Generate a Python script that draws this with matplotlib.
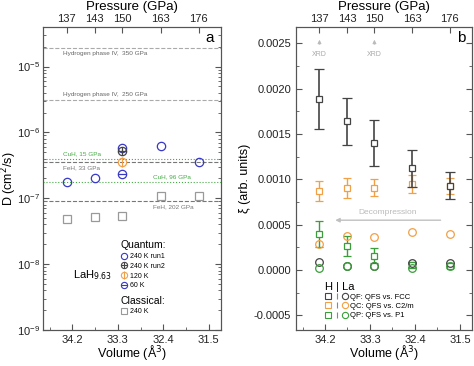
"""LaH9.63 diffusion coefficients (a) and quantum fluctuation measures (b)."""

import numpy as np
import matplotlib
matplotlib.use("Agg")
import matplotlib.pyplot as plt
from matplotlib.lines import Line2D
from matplotlib.legend_handler import HandlerTuple
from matplotlib.ticker import MultipleLocator, LogLocator, NullFormatter, FormatStrFormatter

plt.rcParams["font.family"] = ["Liberation Sans", "DejaVu Sans"]
plt.rcParams["axes.edgecolor"] = "#555555"
plt.rcParams["xtick.color"] = "#555555"
plt.rcParams["ytick.color"] = "#555555"
plt.rcParams["xtick.labelcolor"] = "#222222"
plt.rcParams["ytick.labelcolor"] = "#222222"

# ---- data ----
volume = [34.31, 33.76, 33.21, 32.45, 31.70]
pressure_labels = ["137", "143", "150", "163", "176"]

# panel a: diffusion coefficient D (cm^2/s)
d_240k_run1 = [1.74e-7, 2.0e-7, 5.8e-7, 6.3e-7, 3.6e-7]
d_240k_run2_v, d_240k_run2 = [33.21], [5.3e-7]
d_120k_v, d_120k = [33.21], [3.6e-7]
d_60k_v, d_60k = [33.21], [2.3e-7]
d_classical = [4.8e-8, 5.2e-8, 5.4e-8, 1.1e-7, 1.08e-7]

ref_lines = [  # (value, label, colour, style, label position)
    (1.93e-5, "Hydrogen phase IV,  350 GPa", "#aaaaaa", "--", "left_below"),
    (3.1e-6, "Hydrogen phase IV,  250 GPa", "#aaaaaa", "--", "left_above"),
    (3.9e-7, "CuH, 15 GPa", "#44aa44", ":", "left_above"),
    (3.5e-7, "FeH, 33 GPa", "#777777", "--", "left_below"),
    (1.74e-7, "CuH, 96 GPa", "#44aa44", ":", "right_above"),
    (9.0e-8, "FeH, 202 GPa", "#777777", "--", "right_below"),
]

# panel b: xi (arb. units); H = squares, La = circles
qf_h = [0.00189, 0.00164, 0.00140, 0.00112, 0.00093]
qf_h_err = [0.00033, 0.00026, 0.00025, 0.00020, 0.00015]
qc_h = [0.00087, 0.00091, 0.00091, 0.00095, 0.00093]
qc_h_err = [0.00011, 0.00011, 0.00009, 0.00010, 0.00009]
qp_h = [0.00040, 0.00027, 0.00016, 0.00006, 0.00005]
qp_h_err = [0.00014, 0.00011, 0.00008, 0.00003, 0.00003]
qf_la = [0.00009, 0.00005, 0.00005, 0.00008, 0.00008]
qc_la = [0.00029, 0.00038, 0.00037, 0.00042, 0.00040]
qp_la = [0.00002, 0.00005, 0.00004, 0.00002, 0.00004]

BLUE = "#3838c8"
ORANGE = "#f2a046"
GREEN = "#3a9e3a"
DARK = "#444444"
GRAY = "#999999"

fig = plt.figure(figsize=(4.74, 3.66), dpi=100)
ax_a = fig.add_axes([0.0907, 0.0984, 0.3755, 0.828])
ax_b = fig.add_axes([0.6245, 0.0984, 0.371, 0.828])
xlim = (34.78, 31.26)


def style_axes(ax):
    ax.set_xlim(*xlim)
    ax.xaxis.set_major_locator(MultipleLocator(0.9))
    ax.xaxis.set_minor_locator(MultipleLocator(0.45))
    ax.tick_params(which="both", direction="in", right=True, labelsize=8)
    ax.tick_params(which="major", length=4)
    ax.tick_params(which="minor", length=2)
    ax.set_xlabel("Volume (Å$^3$)", fontsize=9, labelpad=-1)
    top = ax.twiny()
    top.set_xlim(*xlim)
    top.set_xticks(volume)
    top.set_xticklabels(pressure_labels)
    top.tick_params(direction="in", length=4, labelsize=8, pad=2)
    top.set_xlabel("Pressure (GPa)", fontsize=9.5, labelpad=3)
    return top


# ---- panel a ----
top_a = style_axes(ax_a)
ax_a.set_yscale("log")
ax_a.set_ylim(1e-9, 4e-5)
ax_a.yaxis.set_major_locator(LogLocator(base=10, numticks=10))
ax_a.yaxis.set_minor_locator(LogLocator(base=10, subs=np.arange(2, 10), numticks=10))
ax_a.yaxis.set_minor_formatter(NullFormatter())
ax_a.tick_params(axis="y", pad=2)
ax_a.set_ylabel("D (cm$^2$/s)", fontsize=9)
ax_a.yaxis.set_label_coords(-0.135, 0.5)

ytr = ax_a.get_yaxis_transform()
for val, lab, col, ls, pos in ref_lines:
    ax_a.axhline(val, color=col, ls=ls, lw=0.8)
    xpos = 0.11 if pos.startswith("left") else 0.62
    tcol = col if col != "#aaaaaa" else "#666666"
    if pos.endswith("above"):
        ax_a.text(xpos, val * 1.12, lab, transform=ytr, fontsize=4.6,
                  color=tcol, va="bottom")
    else:
        ax_a.text(xpos, val / 1.12, lab, transform=ytr, fontsize=4.6,
                  color=tcol, va="top")

ms = 6
ax_a.plot(volume, d_classical, "s", ms=5.5, mfc="none", mec=GRAY, mew=0.9, ls="none")
ax_a.plot(volume, d_240k_run1, "o", ms=ms, mfc="none", mec=BLUE, mew=0.9, ls="none")
ax_a.plot(d_240k_run2_v, d_240k_run2, "o", ms=ms, mfc="none", mec=DARK, mew=0.9, ls="none")
ax_a.plot(d_240k_run2_v, d_240k_run2, "+", ms=ms, mec=DARK, mew=0.9, ls="none")
ax_a.plot(d_120k_v, d_120k, "o", ms=ms, mfc="none", mec=ORANGE, mew=0.9, ls="none")
ax_a.plot(d_120k_v, d_120k, "|", ms=ms + 1, mec=ORANGE, mew=0.9, ls="none")
ax_a.plot(d_60k_v, d_60k, "o", ms=ms, mfc="none", mec=BLUE, mew=0.9, ls="none")
ax_a.plot(d_60k_v, d_60k, "_", ms=ms, mec=BLUE, mew=0.9, ls="none")

ax_a.text(0.96, 0.985, "a", transform=ax_a.transAxes, fontsize=11, ha="right", va="top")
ax_a.text(0.17, 0.18, "LaH$_{9.63}$", transform=ax_a.transAxes, fontsize=8, va="center")


def mk(marker, color, size=4.5):
    return Line2D([], [], marker=marker, ls="none", ms=size, mfc="none", mec=color, mew=0.8)


q_handles = [
    mk("o", BLUE),
    (mk("o", DARK), mk("+", DARK)),
    (mk("o", ORANGE), mk("|", ORANGE, 5.5)),
    (mk("o", BLUE), mk("_", BLUE)),
]
q_labels = ["240 K run1", "240 K run2", "120 K", "60 K"]
leg_q = ax_a.legend(q_handles, q_labels, title="Quantum:", loc="upper left",
                    bbox_to_anchor=(0.41, 0.31), frameon=False, fontsize=5,
                    title_fontsize=7.5, handlelength=1.0, handletextpad=0.4,
                    labelspacing=0.4, borderpad=0.1,
                    handler_map={tuple: HandlerTuple(ndivide=1)})
leg_q._legend_box.align = "left"
ax_a.add_artist(leg_q)
leg_c = ax_a.legend([mk("s", GRAY)], ["240 K"], title="Classical:", loc="upper left",
                    bbox_to_anchor=(0.41, 0.125), frameon=False, fontsize=5,
                    title_fontsize=7.5, handlelength=1.0, handletextpad=0.4,
                    labelspacing=0.3, borderpad=0.1)
leg_c._legend_box.align = "left"

# ---- panel b ----
top_b = style_axes(ax_b)
ax_b.set_ylim(-0.00066, 0.00268)
ax_b.yaxis.set_major_locator(MultipleLocator(0.0005))
ax_b.yaxis.set_minor_locator(MultipleLocator(0.00025))
ax_b.yaxis.set_major_formatter(FormatStrFormatter("%.4f"))
ax_b.set_ylabel("ξ (arb. units)", fontsize=9, labelpad=2)

ax_b.errorbar(volume, qf_h, yerr=qf_h_err, fmt="s", ms=5, mfc="white", mec=DARK,
              mew=0.9, ecolor=DARK, elinewidth=1.2, capsize=3.5, capthick=1.0, zorder=4)
ax_b.errorbar(volume, qc_h, yerr=qc_h_err, fmt="s", ms=5, mfc="white", mec=ORANGE,
              mew=0.9, ecolor=ORANGE, elinewidth=1.0, capsize=3.0, capthick=1.0, zorder=3)
ax_b.errorbar(volume, qp_h, yerr=qp_h_err, fmt="s", ms=5, mfc="white", mec=GREEN,
              mew=0.9, ecolor=GREEN, elinewidth=1.0, capsize=3.0, capthick=1.0, zorder=3)
ax_b.plot(volume, qf_la, "o", ms=5.5, mfc="none", mec=DARK, mew=0.9, ls="none", zorder=5)
ax_b.plot(volume, qc_la, "o", ms=5.5, mfc="none", mec=ORANGE, mew=0.9, ls="none", zorder=5)
ax_b.plot(volume, qp_la, "o", ms=5.5, mfc="none", mec=GREEN, mew=0.9, ls="none", zorder=5)

for v in (volume[0], volume[2]):
    ax_b.annotate("", xy=(v, 0.00257), xytext=(v, 0.00246),
                  arrowprops=dict(arrowstyle="-|>", color="#bbbbbb", lw=0.8,
                                  mutation_scale=5))
    ax_b.text(v, 0.00238, "XRD", fontsize=5, color="#aaaaaa", ha="center", va="center")

ax_b.annotate("", xy=(34.05, 0.00055), xytext=(31.83, 0.00055),
              arrowprops=dict(arrowstyle="-|>", color="#c0c0c0", lw=1.0,
                              mutation_scale=6))
ax_b.text(32.95, 0.00063, "Decompression", fontsize=6, color="#bbbbbb",
          ha="center", va="center")

ax_b.text(0.965, 0.985, "b", transform=ax_b.transAxes, fontsize=11, ha="right", va="top")

sep = Line2D([], [], marker="|", ls="none", ms=4, mec="#888888", mew=0.8)
b_handles = [
    (mk("s", DARK, 4), sep, mk("o", DARK)),
    (mk("s", ORANGE, 4), sep, mk("o", ORANGE)),
    (mk("s", GREEN, 4), sep, mk("o", GREEN)),
]
b_labels = ["QF: QFS vs. FCC", "QC: QFS vs. C2/m", "QP: QFS vs. P1"]
leg_b = ax_b.legend(b_handles, b_labels, title="H | La", loc="upper left",
                    bbox_to_anchor=(0.14, 0.175), frameon=False, fontsize=5.5,
                    title_fontsize=8, handlelength=3.0, handletextpad=0.3,
                    labelspacing=0.25, borderpad=0.1,
                    handler_map={tuple: HandlerTuple(ndivide=None, pad=0.4)})
leg_b._legend_box.align = "left"

fig.savefig("out.png", dpi=100)
